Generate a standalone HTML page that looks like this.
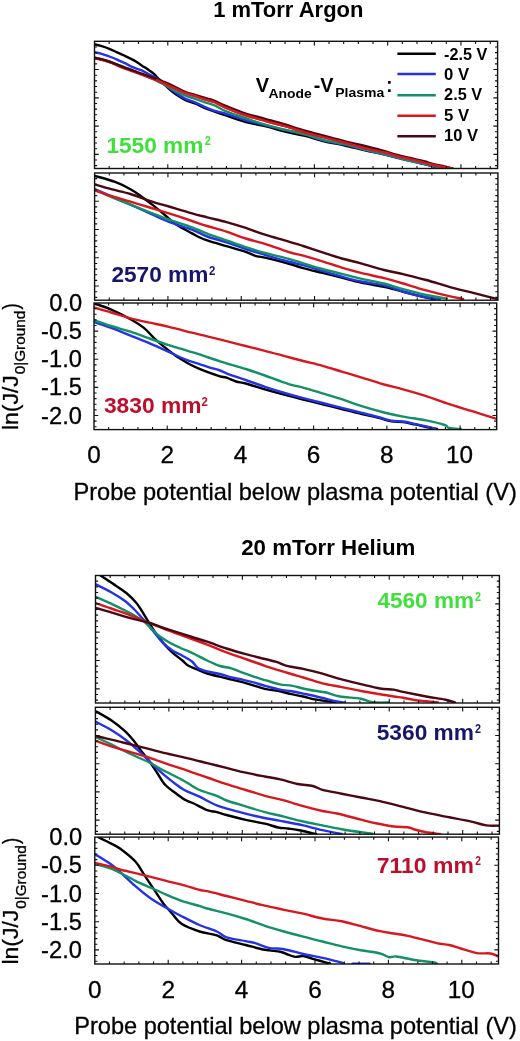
<!DOCTYPE html>
<html><head><meta charset="utf-8"><title>Probe potential plots</title>
<style>html,body{margin:0;padding:0;background:#fff;}svg{display:block;filter:blur(0.3px);}</style>
</head><body>
<svg width="520" height="1041" viewBox="0 0 520 1041">
<rect width="520" height="1041" fill="#fff"/>
<defs>
<clipPath id="cA1"><rect x="94.5" y="41.3" width="403.1" height="127.2"/></clipPath>
<clipPath id="cA2"><rect x="94.6" y="173.0" width="403.29999999999995" height="127.19999999999999"/></clipPath>
<clipPath id="cA3"><rect x="94.0" y="303.0" width="402.7" height="126.60000000000002"/></clipPath>
<clipPath id="cH1"><rect x="95.5" y="575.5" width="403.9" height="127.5"/></clipPath>
<clipPath id="cH2"><rect x="95.4" y="707.3" width="404.0" height="126.90000000000009"/></clipPath>
<clipPath id="cH3"><rect x="94.8" y="837.1" width="403.7" height="126.89999999999998"/></clipPath>
</defs>
<g clip-path="url(#cA1)" fill="none" stroke-width="2.4" stroke-linejoin="round" stroke-linecap="round">
<path stroke="#000000" d="M94.0 44.2C95.3 44.5 99.1 45.4 101.7 46.2C104.3 47.0 106.8 47.8 109.4 48.8C112.0 49.8 114.5 51.1 117.1 52.3C119.7 53.5 122.0 54.4 124.8 55.8C127.6 57.1 131.2 58.8 134.0 60.4C136.8 62.0 139.1 63.7 141.7 65.4C144.3 67.1 147.3 69.0 149.4 70.4C151.5 71.8 152.7 72.7 154.0 73.8C155.3 74.9 156.2 76.3 157.1 77.3C158.0 78.3 158.1 78.3 159.4 79.6C160.7 80.9 162.8 83.1 164.8 85.0C166.8 86.9 169.5 89.5 171.5 91.2C173.5 92.9 174.8 93.6 177.0 95.0C179.2 96.4 182.0 98.4 185.0 99.8C188.0 101.2 191.7 102.1 195.0 103.5C198.3 104.9 201.8 106.8 205.0 108.1C208.2 109.4 210.7 110.2 214.0 111.4C217.3 112.6 219.8 113.5 225.0 115.2C230.2 117.0 238.3 120.1 245.0 121.9C251.7 123.7 258.3 124.4 265.0 126.0C271.7 127.6 278.3 130.0 285.0 131.6C291.7 133.2 298.3 134.2 305.0 135.8C311.7 137.5 318.3 139.9 325.0 141.5C331.7 143.1 338.3 144.0 345.0 145.5C351.7 147.0 358.3 148.8 365.0 150.3C371.7 151.8 378.3 153.0 385.0 154.5C391.7 156.0 398.3 157.7 405.0 159.3C411.7 160.9 418.8 162.6 425.0 164.2C431.2 165.8 439.2 167.9 442.0 168.6"/>
<path stroke="#2433e6" d="M94.0 52.3C95.3 52.5 99.1 53.1 101.7 53.8C104.3 54.5 106.8 55.5 109.4 56.5C112.0 57.5 114.5 58.5 117.1 59.6C119.7 60.7 122.0 61.8 124.8 63.1C127.6 64.5 131.2 66.5 134.0 67.7C136.8 68.9 139.1 69.3 141.7 70.4C144.3 71.5 146.8 73.2 149.4 74.5C152.0 75.8 154.4 76.9 157.0 78.5C159.6 80.1 162.0 81.8 164.8 84.0C167.6 86.2 170.6 89.1 174.0 91.5C177.4 93.9 181.5 96.8 185.0 98.6C188.5 100.4 191.7 101.0 195.0 102.4C198.3 103.8 201.8 105.6 205.0 107.0C208.2 108.4 210.7 109.5 214.0 110.6C217.3 111.7 219.8 111.9 225.0 113.5C230.2 115.1 238.3 118.1 245.0 120.0C251.7 121.9 258.3 123.3 265.0 125.0C271.7 126.7 278.3 128.5 285.0 130.1C291.7 131.7 298.3 132.9 305.0 134.7C311.7 136.5 318.3 139.2 325.0 140.8C331.7 142.5 338.3 143.1 345.0 144.6C351.7 146.1 358.3 148.2 365.0 149.9C371.7 151.6 378.3 153.0 385.0 154.7C391.7 156.4 398.3 158.3 405.0 159.9C411.7 161.5 418.5 163.0 425.0 164.4C431.5 165.8 440.8 167.9 444.0 168.6"/>
<path stroke="#139065" d="M94.0 57.5C97.8 58.6 110.3 62.0 117.0 64.3C123.7 66.5 128.6 68.8 134.0 71.0C139.4 73.2 144.3 75.2 149.4 77.5C154.5 79.8 160.7 82.9 164.8 85.0C168.9 87.1 170.6 88.6 174.0 90.3C177.4 92.0 181.5 94.0 185.0 95.4C188.5 96.8 191.7 97.7 195.0 98.8C198.3 99.9 201.8 101.2 205.0 102.3C208.2 103.4 210.7 103.8 214.0 105.2C217.3 106.6 219.8 108.7 225.0 110.8C230.2 112.9 238.3 115.7 245.0 118.0C251.7 120.3 258.3 122.8 265.0 124.7C271.7 126.7 278.3 128.1 285.0 129.7C291.7 131.3 298.3 132.5 305.0 134.3C311.7 136.1 318.3 138.8 325.0 140.4C331.7 142.1 338.3 142.7 345.0 144.2C351.7 145.7 358.3 147.8 365.0 149.5C371.7 151.2 378.3 152.6 385.0 154.3C391.7 156.0 398.3 157.9 405.0 159.5C411.7 161.1 418.2 162.5 425.0 164.0C431.8 165.5 442.5 167.8 446.0 168.6"/>
<path stroke="#d81820" d="M94.0 58.2C95.3 58.5 99.1 59.1 101.7 59.8C104.3 60.5 106.8 61.3 109.4 62.2C112.0 63.1 114.5 64.3 117.1 65.4C119.7 66.5 122.0 67.5 124.8 68.6C127.6 69.7 131.2 70.8 134.0 71.8C136.8 72.8 139.1 73.8 141.7 74.7C144.3 75.7 146.8 76.6 149.4 77.5C152.0 78.4 154.5 79.2 157.1 80.2C159.7 81.2 162.0 82.3 164.8 83.6C167.6 84.9 170.6 86.4 174.0 87.9C177.4 89.5 181.5 91.6 185.0 92.9C188.5 94.2 191.7 94.9 195.0 96.0C198.3 97.1 201.8 98.3 205.0 99.3C208.2 100.3 210.7 100.7 214.0 102.0C217.3 103.3 219.8 105.1 225.0 107.3C230.2 109.5 238.3 112.8 245.0 115.0C251.7 117.2 258.3 118.9 265.0 120.8C271.7 122.7 278.3 124.3 285.0 126.2C291.7 128.1 298.3 130.4 305.0 132.3C311.7 134.2 318.3 136.0 325.0 137.7C331.7 139.4 338.3 141.0 345.0 142.7C351.7 144.4 358.3 146.5 365.0 148.1C371.7 149.7 380.0 151.3 385.0 152.5C390.0 153.7 391.7 154.6 395.0 155.5C398.3 156.4 401.7 157.2 405.0 158.0C408.3 158.8 411.7 159.4 415.0 160.2C418.3 161.0 421.9 162.0 425.0 162.8C428.1 163.6 430.4 164.3 433.6 165.0C436.8 165.7 441.2 166.4 444.4 167.0C447.5 167.6 451.1 168.3 452.5 168.6"/>
<path stroke="#4a0812" d="M94.0 57.7C95.3 58.0 99.1 58.6 101.7 59.2C104.3 59.8 106.8 60.6 109.4 61.5C112.0 62.4 114.5 63.6 117.1 64.6C119.7 65.6 122.0 66.7 124.8 67.7C127.6 68.7 131.2 69.8 134.0 70.8C136.8 71.8 139.1 72.7 141.7 73.6C144.3 74.5 146.8 75.4 149.4 76.3C152.0 77.2 154.5 77.9 157.1 78.9C159.7 79.9 162.0 81.0 164.8 82.2C167.6 83.4 170.6 84.7 174.0 86.3C177.4 87.9 181.5 90.4 185.0 91.8C188.5 93.2 191.7 93.8 195.0 94.8C198.3 95.8 201.8 97.0 205.0 97.9C208.2 98.9 210.7 99.2 214.0 100.5C217.3 101.8 219.8 103.4 225.0 105.5C230.2 107.6 238.3 111.1 245.0 113.3C251.7 115.5 258.3 116.9 265.0 118.8C271.7 120.7 278.3 122.5 285.0 124.5C291.7 126.5 298.3 128.7 305.0 130.6C311.7 132.5 318.3 134.2 325.0 136.0C331.7 137.8 338.3 139.6 345.0 141.3C351.7 143.0 358.3 144.3 365.0 146.0C371.7 147.7 380.0 149.8 385.0 151.2C390.0 152.6 391.7 153.6 395.0 154.5C398.3 155.4 401.7 156.0 405.0 156.8C408.3 157.6 411.7 158.4 415.0 159.2C418.3 160.0 421.9 160.7 425.0 161.5C428.1 162.3 430.4 163.4 433.6 164.2C436.8 165.0 441.2 165.7 444.4 166.4C447.5 167.1 451.1 168.0 452.5 168.3"/>
<path stroke="#d81820" d="M157.1 80.2C158.4 80.8 162.0 82.3 164.8 83.6C167.6 84.9 170.6 86.4 174.0 87.9C177.4 89.5 181.5 91.6 185.0 92.9C188.5 94.2 191.7 94.9 195.0 96.0C198.3 97.1 201.8 98.3 205.0 99.3C208.2 100.3 210.7 100.7 214.0 102.0C217.3 103.3 219.8 105.1 225.0 107.3C230.2 109.5 238.3 112.8 245.0 115.0C251.7 117.2 258.3 118.9 265.0 120.8C271.7 122.7 278.3 124.3 285.0 126.2C291.7 128.1 298.3 130.4 305.0 132.3C311.7 134.2 318.3 136.0 325.0 137.7C331.7 139.4 338.3 141.0 345.0 142.7C351.7 144.4 358.3 146.5 365.0 148.1C371.7 149.7 380.0 151.3 385.0 152.5C390.0 153.7 391.7 154.6 395.0 155.5C398.3 156.4 401.7 157.2 405.0 158.0C408.3 158.8 411.7 159.4 415.0 160.2C418.3 161.0 421.9 162.0 425.0 162.8C428.1 163.6 430.4 164.3 433.6 165.0C436.8 165.7 441.2 166.4 444.4 167.0C447.5 167.6 451.1 168.3 452.5 168.6"/>
</g>
<rect x="94.5" y="41.3" width="403.10" height="127.20" fill="none" stroke="#111" stroke-width="1.4"/>
<path d="M109.16 168.50v-2.6M109.16 41.30v2.6M123.82 168.50v-2.6M123.82 41.30v2.6M138.47 168.50v-2.6M138.47 41.30v2.6M153.13 168.50v-2.6M153.13 41.30v2.6M167.79 168.50v-4.2M167.79 41.30v4.2M182.45 168.50v-2.6M182.45 41.30v2.6M197.11 168.50v-2.6M197.11 41.30v2.6M211.77 168.50v-2.6M211.77 41.30v2.6M226.42 168.50v-2.6M226.42 41.30v2.6M241.08 168.50v-4.2M241.08 41.30v4.2M255.74 168.50v-2.6M255.74 41.30v2.6M270.40 168.50v-2.6M270.40 41.30v2.6M285.06 168.50v-2.6M285.06 41.30v2.6M299.71 168.50v-2.6M299.71 41.30v2.6M314.37 168.50v-4.2M314.37 41.30v4.2M329.03 168.50v-2.6M329.03 41.30v2.6M343.69 168.50v-2.6M343.69 41.30v2.6M358.35 168.50v-2.6M358.35 41.30v2.6M373.01 168.50v-2.6M373.01 41.30v2.6M387.66 168.50v-4.2M387.66 41.30v4.2M402.32 168.50v-2.6M402.32 41.30v2.6M416.98 168.50v-2.6M416.98 41.30v2.6M431.64 168.50v-2.6M431.64 41.30v2.6M446.30 168.50v-2.6M446.30 41.30v2.6M460.95 168.50v-4.2M460.95 41.30v4.2M475.61 168.50v-2.6M475.61 41.30v2.6M490.27 168.50v-2.6M490.27 41.30v2.6M94.50 46.95h2.6M497.60 46.95h-2.6M94.50 52.61h2.6M497.60 52.61h-2.6M94.50 58.26h2.6M497.60 58.26h-2.6M94.50 63.91h2.6M497.60 63.91h-2.6M94.50 69.57h4.2M497.60 69.57h-4.2M94.50 75.22h2.6M497.60 75.22h-2.6M94.50 80.87h2.6M497.60 80.87h-2.6M94.50 86.53h2.6M497.60 86.53h-2.6M94.50 92.18h2.6M497.60 92.18h-2.6M94.50 97.83h4.2M497.60 97.83h-4.2M94.50 103.49h2.6M497.60 103.49h-2.6M94.50 109.14h2.6M497.60 109.14h-2.6M94.50 114.79h2.6M497.60 114.79h-2.6M94.50 120.45h2.6M497.60 120.45h-2.6M94.50 126.10h4.2M497.60 126.10h-4.2M94.50 131.75h2.6M497.60 131.75h-2.6M94.50 137.41h2.6M497.60 137.41h-2.6M94.50 143.06h2.6M497.60 143.06h-2.6M94.50 148.71h2.6M497.60 148.71h-2.6M94.50 154.37h4.2M497.60 154.37h-4.2M94.50 160.02h2.6M497.60 160.02h-2.6M94.50 165.67h2.6M497.60 165.67h-2.6" stroke="#111" stroke-width="1.1" fill="none"/>
<g clip-path="url(#cA2)" fill="none" stroke-width="2.4" stroke-linejoin="round" stroke-linecap="round">
<path stroke="#000000" d="M94.3 175.8C97.8 176.8 109.1 179.7 115.1 181.9C121.1 184.1 126.0 186.7 130.5 189.2C135.0 191.7 138.2 194.2 142.0 196.9C145.8 199.6 149.7 202.6 153.5 205.6C157.3 208.6 161.2 212.0 165.1 215.2C168.9 218.4 172.1 221.8 176.6 224.8C181.1 227.8 188.5 231.5 192.0 233.4C195.5 235.3 195.1 235.3 197.6 236.5C200.1 237.7 202.4 238.8 207.2 240.4C212.0 242.0 220.1 244.3 226.5 246.2C232.9 248.1 240.9 250.3 245.7 251.9C250.5 253.5 252.1 254.8 255.3 255.8C258.5 256.8 259.4 256.4 264.9 257.7C270.3 259.0 281.6 261.8 288.0 263.5C294.4 265.2 297.4 266.5 303.2 268.1C308.9 269.7 316.1 271.3 322.5 272.9C328.9 274.5 335.3 276.1 341.7 277.7C348.1 279.3 353.8 281.0 360.9 282.5C367.9 284.0 378.5 285.7 384.0 286.8C389.5 287.9 390.6 288.4 393.8 289.2C397.0 290.0 397.7 290.4 403.1 291.8C408.5 293.2 420.8 296.3 426.2 297.5C431.6 298.7 433.9 298.7 435.4 298.9"/>
<path stroke="#2433e6" d="M94.3 188.8C100.3 191.4 121.3 200.5 130.5 204.6C139.7 208.7 143.3 210.4 149.7 213.3C156.1 216.2 161.8 219.2 168.9 221.9C176.0 224.6 185.6 227.2 192.0 229.6C198.4 232.0 201.4 234.4 207.2 236.5C212.9 238.6 220.1 240.2 226.5 242.3C232.9 244.4 239.3 246.9 245.7 249.0C252.1 251.1 257.8 252.7 264.9 254.8C271.9 256.9 281.6 259.8 288.0 261.5C294.4 263.2 297.4 263.6 303.2 265.2C308.9 266.8 316.1 269.1 322.5 271.0C328.9 272.9 335.3 274.9 341.7 276.7C348.1 278.4 353.8 280.1 360.9 281.5C367.9 282.9 377.0 283.7 384.0 285.4C391.0 287.1 396.1 289.5 403.1 291.5C410.1 293.5 420.1 296.1 426.2 297.3C432.3 298.5 437.7 298.6 440.0 298.9"/>
<path stroke="#139065" d="M94.3 189.2C97.1 190.5 105.2 194.3 111.2 196.9C117.2 199.5 124.1 202.0 130.5 204.6C136.9 207.2 143.3 209.8 149.7 212.3C156.1 214.8 161.8 217.1 168.9 219.6C176.0 222.1 185.6 225.0 192.0 227.3C198.4 229.7 201.4 231.5 207.2 233.7C212.9 235.9 220.1 238.2 226.5 240.4C232.9 242.6 239.3 245.0 245.7 247.1C252.1 249.2 257.8 251.0 264.9 252.9C271.9 254.8 281.6 257.0 288.0 258.7C294.4 260.4 297.4 261.6 303.2 263.3C308.9 265.0 316.1 267.2 322.5 269.0C328.9 270.8 335.3 272.2 341.7 273.8C348.1 275.4 353.8 277.1 360.9 278.7C367.9 280.3 377.0 281.8 384.0 283.5C391.0 285.2 396.1 287.3 403.1 289.2C410.1 291.1 418.9 293.4 426.2 295.0C433.5 296.6 443.4 297.9 446.9 298.5"/>
<path stroke="#d81820" d="M94.3 190.2C97.1 191.2 105.2 194.1 111.2 196.0C117.2 197.9 124.1 199.8 130.5 201.7C136.9 203.6 143.3 205.6 149.7 207.5C156.1 209.4 161.8 211.1 168.9 213.3C176.0 215.6 185.6 218.9 192.0 221.0C198.4 223.1 201.4 224.2 207.2 226.0C212.9 227.8 220.1 229.6 226.5 231.7C232.9 233.8 239.3 236.5 245.7 238.5C252.1 240.5 257.8 241.6 264.9 243.8C271.9 246.0 281.6 249.9 288.0 251.9C294.4 253.9 297.4 254.0 303.2 255.6C308.9 257.2 316.1 259.3 322.5 261.3C328.9 263.3 335.3 265.8 341.7 267.7C348.1 269.6 353.8 271.2 360.9 272.9C367.9 274.6 377.0 276.3 384.0 278.1C391.0 279.9 396.1 281.4 403.1 283.5C410.1 285.6 418.5 288.3 426.2 290.4C433.9 292.5 443.0 294.8 449.2 296.2C455.4 297.6 460.8 298.4 463.1 298.9"/>
<path stroke="#4a0812" d="M94.3 184.4C97.1 185.2 105.2 187.6 111.2 189.2C117.2 190.8 124.1 192.1 130.5 194.0C136.9 195.9 143.3 198.7 149.7 200.8C156.1 202.9 161.8 204.4 168.9 206.5C176.0 208.6 185.6 211.5 192.0 213.3C198.4 215.1 201.4 215.8 207.2 217.3C212.9 218.8 220.1 220.3 226.5 222.1C232.9 223.9 239.3 225.8 245.7 227.9C252.1 230.0 257.8 232.4 264.9 234.6C271.9 236.8 281.6 239.4 288.0 241.3C294.4 243.2 297.4 244.2 303.2 246.0C308.9 247.8 316.1 250.2 322.5 252.3C328.9 254.4 335.3 256.7 341.7 258.5C348.1 260.3 353.8 261.4 360.9 263.3C367.9 265.2 377.0 268.2 384.0 270.0C391.0 271.8 396.1 272.5 403.1 274.2C410.1 275.9 418.5 277.9 426.2 280.0C433.9 282.1 441.5 284.8 449.2 286.9C456.9 289.0 464.1 290.6 472.3 292.7C480.5 294.8 494.1 298.2 498.5 299.3"/>
</g>
<rect x="94.6" y="173.0" width="403.30" height="127.20" fill="none" stroke="#111" stroke-width="1.4"/>
<path d="M109.27 300.20v-2.6M109.27 173.00v2.6M123.93 300.20v-2.6M123.93 173.00v2.6M138.60 300.20v-2.6M138.60 173.00v2.6M153.26 300.20v-2.6M153.26 173.00v2.6M167.93 300.20v-4.2M167.93 173.00v4.2M182.59 300.20v-2.6M182.59 173.00v2.6M197.26 300.20v-2.6M197.26 173.00v2.6M211.92 300.20v-2.6M211.92 173.00v2.6M226.59 300.20v-2.6M226.59 173.00v2.6M241.25 300.20v-4.2M241.25 173.00v4.2M255.92 300.20v-2.6M255.92 173.00v2.6M270.59 300.20v-2.6M270.59 173.00v2.6M285.25 300.20v-2.6M285.25 173.00v2.6M299.92 300.20v-2.6M299.92 173.00v2.6M314.58 300.20v-4.2M314.58 173.00v4.2M329.25 300.20v-2.6M329.25 173.00v2.6M343.91 300.20v-2.6M343.91 173.00v2.6M358.58 300.20v-2.6M358.58 173.00v2.6M373.24 300.20v-2.6M373.24 173.00v2.6M387.91 300.20v-4.2M387.91 173.00v4.2M402.57 300.20v-2.6M402.57 173.00v2.6M417.24 300.20v-2.6M417.24 173.00v2.6M431.91 300.20v-2.6M431.91 173.00v2.6M446.57 300.20v-2.6M446.57 173.00v2.6M461.24 300.20v-4.2M461.24 173.00v4.2M475.90 300.20v-2.6M475.90 173.00v2.6M490.57 300.20v-2.6M490.57 173.00v2.6M94.60 178.65h2.6M497.90 178.65h-2.6M94.60 184.31h2.6M497.90 184.31h-2.6M94.60 189.96h2.6M497.90 189.96h-2.6M94.60 195.61h2.6M497.90 195.61h-2.6M94.60 201.27h4.2M497.90 201.27h-4.2M94.60 206.92h2.6M497.90 206.92h-2.6M94.60 212.57h2.6M497.90 212.57h-2.6M94.60 218.23h2.6M497.90 218.23h-2.6M94.60 223.88h2.6M497.90 223.88h-2.6M94.60 229.53h4.2M497.90 229.53h-4.2M94.60 235.19h2.6M497.90 235.19h-2.6M94.60 240.84h2.6M497.90 240.84h-2.6M94.60 246.49h2.6M497.90 246.49h-2.6M94.60 252.15h2.6M497.90 252.15h-2.6M94.60 257.80h4.2M497.90 257.80h-4.2M94.60 263.45h2.6M497.90 263.45h-2.6M94.60 269.11h2.6M497.90 269.11h-2.6M94.60 274.76h2.6M497.90 274.76h-2.6M94.60 280.41h2.6M497.90 280.41h-2.6M94.60 286.07h4.2M497.90 286.07h-4.2M94.60 291.72h2.6M497.90 291.72h-2.6M94.60 297.37h2.6M497.90 297.37h-2.6" stroke="#111" stroke-width="1.1" fill="none"/>
<g clip-path="url(#cA3)" fill="none" stroke-width="2.4" stroke-linejoin="round" stroke-linecap="round">
<path stroke="#000000" d="M94.3 303.5C97.1 304.5 105.2 307.0 111.2 309.6C117.2 312.2 125.0 316.1 130.5 319.2C135.9 322.2 140.1 324.8 143.9 327.9C147.7 330.9 150.3 334.4 153.5 337.5C156.7 340.6 159.7 343.3 163.2 346.2C166.7 349.1 171.9 352.9 174.7 355.0C177.5 357.1 177.6 357.0 180.0 358.5C182.4 360.0 186.1 362.3 189.2 364.0C192.3 365.7 195.6 367.2 198.8 368.6C202.0 370.0 205.0 371.1 208.5 372.4C212.0 373.7 217.0 375.4 220.0 376.3C223.0 377.2 223.8 376.8 226.5 377.7C229.2 378.6 232.9 380.5 236.1 381.5C239.3 382.5 240.9 382.2 245.7 383.5C250.5 384.8 258.5 387.4 264.9 389.3C271.3 391.2 277.8 393.0 284.2 394.7C290.6 396.4 296.8 397.9 303.2 399.5C309.6 401.1 316.1 402.7 322.5 404.3C328.9 405.9 335.3 407.4 341.7 409.0C348.1 410.6 354.5 412.3 360.9 413.8C367.3 415.3 374.9 416.9 380.0 418.2C385.1 419.5 387.6 420.8 391.5 421.4C395.4 422.0 399.2 421.6 403.1 422.1C407.0 422.6 410.8 423.6 414.6 424.4C418.5 425.2 422.5 426.2 426.2 427.0C429.9 427.8 435.2 428.7 437.0 429.0"/>
<path stroke="#2433e6" d="M94.3 322.1C97.1 323.1 105.2 325.6 111.2 327.9C117.2 330.1 124.1 333.0 130.5 335.6C136.9 338.2 143.3 340.6 149.7 343.3C156.1 346.0 163.9 349.6 168.9 351.9C173.9 354.2 176.2 355.5 179.6 357.0C183.0 358.5 186.0 359.8 189.2 360.9C192.4 362.0 195.6 362.8 198.8 363.8C202.0 364.8 205.0 366.0 208.5 367.1C212.0 368.2 217.0 369.5 220.0 370.5C223.0 371.5 222.2 371.7 226.5 373.3C230.8 374.9 239.3 377.8 245.7 380.0C252.1 382.2 257.8 384.5 264.9 386.8C271.9 389.1 281.6 392.1 288.0 394.0C294.4 395.9 297.4 396.7 303.2 398.2C308.9 399.7 316.1 401.4 322.5 403.0C328.9 404.6 335.3 406.2 341.7 407.8C348.1 409.4 354.5 411.1 360.9 412.7C367.3 414.3 374.9 416.1 380.0 417.5C385.1 418.9 387.6 420.1 391.5 420.8C395.4 421.5 399.2 421.0 403.1 421.5C407.0 422.0 410.8 423.0 414.6 423.8C418.5 424.6 422.7 425.6 426.2 426.4C429.7 427.2 433.9 428.4 435.4 428.8"/>
<path stroke="#139065" d="M94.3 320.2C97.1 321.2 105.2 324.1 111.2 326.0C117.2 327.9 124.1 329.6 130.5 331.7C136.9 333.8 143.3 336.2 149.7 338.5C156.1 340.8 163.9 343.6 168.9 345.2C173.9 346.8 176.2 347.4 179.6 348.4C183.0 349.4 186.0 350.4 189.2 351.3C192.4 352.2 195.6 353.1 198.8 354.1C202.0 355.1 205.0 356.3 208.5 357.5C212.0 358.7 217.0 360.3 220.0 361.3C223.0 362.3 222.2 362.0 226.5 363.3C230.8 364.6 239.3 367.0 245.7 369.0C252.1 371.0 257.8 373.0 264.9 375.5C271.9 378.0 281.6 381.8 288.0 383.8C294.4 385.8 297.4 386.1 303.2 387.7C308.9 389.3 316.1 391.5 322.5 393.4C328.9 395.3 335.3 397.1 341.7 399.2C348.1 401.3 353.8 403.7 360.9 405.9C367.9 408.1 377.0 410.7 384.0 412.5C391.0 414.3 396.1 415.3 403.1 416.6C410.1 417.9 419.3 419.0 426.2 420.4C433.1 421.8 440.8 423.7 444.6 425.0C448.4 426.3 446.5 427.3 449.2 428.0C451.9 428.7 458.9 428.8 460.8 429.0"/>
<path stroke="#d81820" d="M94.3 307.7C97.1 308.5 105.2 310.7 111.2 312.5C117.2 314.3 124.1 316.6 130.5 318.3C136.9 320.0 143.3 321.3 149.7 322.7C156.1 324.1 161.8 325.2 168.9 326.9C176.0 328.6 185.6 331.1 192.0 332.7C198.4 334.3 201.4 334.9 207.2 336.3C212.9 337.7 220.1 339.6 226.5 341.2C232.9 342.8 239.3 344.4 245.7 346.0C252.1 347.6 257.8 349.0 264.9 350.8C271.9 352.6 281.6 355.3 288.0 357.0C294.4 358.7 297.4 359.5 303.2 361.0C308.9 362.5 316.1 364.0 322.5 365.8C328.9 367.6 335.3 369.7 341.7 371.6C348.1 373.5 353.8 375.2 360.9 377.3C367.9 379.4 377.0 382.5 384.0 384.5C391.0 386.5 396.1 387.4 403.1 389.4C410.1 391.3 418.5 393.7 426.2 396.2C433.9 398.7 441.5 401.7 449.2 404.2C456.9 406.7 464.2 408.7 472.3 411.2C480.4 413.7 493.3 417.9 497.5 419.2"/>
</g>
<rect x="94.0" y="303.0" width="402.70" height="126.60" fill="none" stroke="#111" stroke-width="1.4"/>
<path d="M108.64 429.60v-2.6M108.64 303.00v2.6M123.29 429.60v-2.6M123.29 303.00v2.6M137.93 429.60v-2.6M137.93 303.00v2.6M152.57 429.60v-2.6M152.57 303.00v2.6M167.22 429.60v-4.2M167.22 303.00v4.2M181.86 429.60v-2.6M181.86 303.00v2.6M196.51 429.60v-2.6M196.51 303.00v2.6M211.15 429.60v-2.6M211.15 303.00v2.6M225.79 429.60v-2.6M225.79 303.00v2.6M240.44 429.60v-4.2M240.44 303.00v4.2M255.08 429.60v-2.6M255.08 303.00v2.6M269.72 429.60v-2.6M269.72 303.00v2.6M284.37 429.60v-2.6M284.37 303.00v2.6M299.01 429.60v-2.6M299.01 303.00v2.6M313.65 429.60v-4.2M313.65 303.00v4.2M328.30 429.60v-2.6M328.30 303.00v2.6M342.94 429.60v-2.6M342.94 303.00v2.6M357.59 429.60v-2.6M357.59 303.00v2.6M372.23 429.60v-2.6M372.23 303.00v2.6M386.87 429.60v-4.2M386.87 303.00v4.2M401.52 429.60v-2.6M401.52 303.00v2.6M416.16 429.60v-2.6M416.16 303.00v2.6M430.80 429.60v-2.6M430.80 303.00v2.6M445.45 429.60v-2.6M445.45 303.00v2.6M460.09 429.60v-4.2M460.09 303.00v4.2M474.73 429.60v-2.6M474.73 303.00v2.6M489.38 429.60v-2.6M489.38 303.00v2.6M94.00 308.63h2.6M496.70 308.63h-2.6M94.00 314.25h2.6M496.70 314.25h-2.6M94.00 319.88h2.6M496.70 319.88h-2.6M94.00 325.51h2.6M496.70 325.51h-2.6M94.00 331.13h4.2M496.70 331.13h-4.2M94.00 336.76h2.6M496.70 336.76h-2.6M94.00 342.39h2.6M496.70 342.39h-2.6M94.00 348.01h2.6M496.70 348.01h-2.6M94.00 353.64h2.6M496.70 353.64h-2.6M94.00 359.27h4.2M496.70 359.27h-4.2M94.00 364.89h2.6M496.70 364.89h-2.6M94.00 370.52h2.6M496.70 370.52h-2.6M94.00 376.15h2.6M496.70 376.15h-2.6M94.00 381.77h2.6M496.70 381.77h-2.6M94.00 387.40h4.2M496.70 387.40h-4.2M94.00 393.03h2.6M496.70 393.03h-2.6M94.00 398.65h2.6M496.70 398.65h-2.6M94.00 404.28h2.6M496.70 404.28h-2.6M94.00 409.91h2.6M496.70 409.91h-2.6M94.00 415.53h4.2M496.70 415.53h-4.2M94.00 421.16h2.6M496.70 421.16h-2.6M94.00 426.79h2.6M496.70 426.79h-2.6" stroke="#111" stroke-width="1.1" fill="none"/>
<g clip-path="url(#cH1)" fill="none" stroke-width="2.4" stroke-linejoin="round" stroke-linecap="round">
<path stroke="#000000" d="M97.5 573.5C99.8 575.0 106.4 579.3 111.2 582.6C116.0 585.9 122.4 589.8 126.6 593.2C130.8 596.6 133.3 599.3 136.2 602.8C139.1 606.3 141.7 610.8 143.9 614.3C146.2 617.8 147.4 620.4 149.7 623.9C151.9 627.4 154.8 632.0 157.4 635.5C160.0 639.0 162.5 642.2 165.1 645.1C167.7 648.0 169.9 650.2 172.8 652.8C175.7 655.4 179.9 658.4 182.4 660.5C184.9 662.6 185.5 664.0 188.0 665.5C190.5 667.0 194.4 668.3 197.6 669.6C200.8 670.9 202.4 672.0 207.2 673.5C212.0 675.0 220.1 676.7 226.5 678.3C232.9 679.9 239.3 681.4 245.7 683.1C252.1 684.9 259.2 687.4 264.9 688.8C270.6 690.2 275.6 690.4 280.0 691.3C284.4 692.2 287.6 693.3 291.5 694.2C295.4 695.1 299.2 695.6 303.1 696.5C307.0 697.4 310.8 698.6 314.6 699.4C318.4 700.2 322.6 700.6 326.1 701.1C329.6 701.6 333.8 702.4 335.4 702.6"/>
<path stroke="#2433e6" d="M94.9 583.9C97.6 585.3 106.2 589.4 111.2 592.2C116.2 595.0 120.8 597.9 124.7 600.8C128.6 603.7 131.1 606.3 134.3 609.5C137.5 612.7 140.7 616.4 143.9 620.1C147.1 623.8 150.3 627.8 153.5 631.6C156.7 635.5 160.0 640.0 163.2 643.2C166.4 646.4 169.6 648.7 172.8 650.8C176.0 652.9 179.2 653.9 182.4 655.7C185.6 657.5 189.5 659.5 192.0 661.5C194.5 663.5 195.1 666.0 197.6 667.7C200.1 669.4 203.5 670.5 207.2 671.5C210.9 672.5 215.9 673.0 220.0 674.0C224.1 675.0 227.7 676.5 231.5 677.5C235.3 678.5 239.2 678.9 243.1 679.8C246.9 680.7 250.8 681.7 254.6 682.7C258.4 683.8 261.9 685.0 266.1 686.1C270.3 687.2 275.8 688.7 280.0 689.6C284.2 690.5 287.6 690.6 291.5 691.3C295.4 692.0 299.2 692.8 303.1 693.6C307.0 694.4 310.8 695.1 314.6 696.0C318.4 696.9 323.0 698.0 326.1 698.8C329.2 699.6 329.9 700.0 333.0 700.6C336.1 701.2 343.0 702.3 345.0 702.6"/>
<path stroke="#139065" d="M94.9 596.6C97.6 597.8 105.3 600.9 111.2 603.7C117.1 606.5 124.7 610.1 130.5 613.3C136.3 616.5 141.3 619.5 145.8 623.0C150.3 626.5 153.6 631.3 157.4 634.5C161.2 637.7 165.1 640.0 168.9 642.2C172.8 644.5 176.7 646.2 180.5 648.0C184.3 649.8 187.6 650.7 192.0 652.8C196.4 654.9 202.5 658.3 207.2 660.5C211.9 662.7 215.9 664.7 220.0 666.0C224.1 667.3 227.7 667.1 231.5 668.3C235.3 669.4 239.2 671.5 243.1 672.9C246.9 674.3 250.8 675.6 254.6 676.9C258.4 678.1 261.9 679.1 266.1 680.4C270.3 681.6 275.8 683.5 280.0 684.4C284.2 685.3 287.6 684.9 291.5 685.6C295.4 686.3 299.2 687.6 303.1 688.5C307.0 689.4 310.8 690.1 314.6 690.8C318.4 691.5 321.9 691.5 326.1 692.5C330.3 693.5 334.2 695.5 340.0 696.5C345.8 697.5 355.5 697.7 360.9 698.7C366.3 699.7 367.8 701.7 372.5 702.3C377.2 702.9 386.2 702.5 389.0 702.5"/>
<path stroke="#d81820" d="M94.9 602.8C97.6 603.8 105.3 606.4 111.2 608.5C117.1 610.6 124.1 612.9 130.5 615.3C136.9 617.7 143.3 620.4 149.7 623.0C156.1 625.6 161.8 628.0 168.9 630.7C176.0 633.4 185.6 636.7 192.0 639.0C198.4 641.3 201.4 642.4 207.2 644.6C212.9 646.8 220.1 649.9 226.5 652.3C232.9 654.7 239.3 656.8 245.7 659.0C252.1 661.2 257.8 663.5 264.9 665.8C271.9 668.1 281.6 671.0 288.0 673.0C294.4 675.0 297.4 675.8 303.2 677.5C308.9 679.2 316.1 681.7 322.5 683.3C328.9 684.9 335.3 685.8 341.7 687.1C348.1 688.4 354.5 689.8 360.9 691.0C367.3 692.2 374.5 693.3 380.0 694.2C385.5 695.1 389.9 695.9 393.8 696.5C397.7 697.1 399.6 697.1 403.1 697.7C406.6 698.3 410.8 699.4 414.6 700.0C418.5 700.6 422.3 700.8 426.2 701.2C430.1 701.6 436.0 702.3 438.0 702.5"/>
<path stroke="#4a0812" d="M94.9 607.6C97.6 608.4 105.3 610.6 111.2 612.4C117.1 614.2 124.1 616.4 130.5 618.2C136.9 620.0 143.3 621.1 149.7 623.0C156.1 624.9 161.8 627.4 168.9 629.7C176.0 632.0 185.6 635.0 192.0 637.0C198.4 639.0 201.4 639.8 207.2 641.7C212.9 643.6 220.1 646.4 226.5 648.5C232.9 650.6 239.3 652.5 245.7 654.2C252.1 656.0 259.8 657.7 264.9 659.0C270.0 660.3 272.6 660.7 276.5 661.9C280.4 663.1 283.6 665.1 288.0 666.2C292.4 667.4 297.4 667.5 303.2 668.8C308.9 670.0 316.1 671.9 322.5 673.7C328.9 675.5 335.3 677.6 341.7 679.4C348.1 681.1 354.5 682.7 360.9 684.2C367.3 685.7 374.5 687.6 380.0 688.5C385.5 689.4 389.9 689.0 393.8 689.6C397.7 690.2 397.7 690.8 403.1 691.9C408.5 693.0 419.3 695.2 426.2 696.5C433.1 697.8 439.8 698.5 444.6 699.5C449.4 700.5 453.3 702.0 455.0 702.5"/>
</g>
<rect x="95.5" y="575.5" width="403.90" height="127.50" fill="none" stroke="#111" stroke-width="1.4"/>
<path d="M110.19 703.00v-2.6M110.19 575.50v2.6M124.87 703.00v-2.6M124.87 575.50v2.6M139.56 703.00v-2.6M139.56 575.50v2.6M154.25 703.00v-2.6M154.25 575.50v2.6M168.94 703.00v-4.2M168.94 575.50v4.2M183.62 703.00v-2.6M183.62 575.50v2.6M198.31 703.00v-2.6M198.31 575.50v2.6M213.00 703.00v-2.6M213.00 575.50v2.6M227.69 703.00v-2.6M227.69 575.50v2.6M242.37 703.00v-4.2M242.37 575.50v4.2M257.06 703.00v-2.6M257.06 575.50v2.6M271.75 703.00v-2.6M271.75 575.50v2.6M286.43 703.00v-2.6M286.43 575.50v2.6M301.12 703.00v-2.6M301.12 575.50v2.6M315.81 703.00v-4.2M315.81 575.50v4.2M330.50 703.00v-2.6M330.50 575.50v2.6M345.18 703.00v-2.6M345.18 575.50v2.6M359.87 703.00v-2.6M359.87 575.50v2.6M374.56 703.00v-2.6M374.56 575.50v2.6M389.25 703.00v-4.2M389.25 575.50v4.2M403.93 703.00v-2.6M403.93 575.50v2.6M418.62 703.00v-2.6M418.62 575.50v2.6M433.31 703.00v-2.6M433.31 575.50v2.6M447.99 703.00v-2.6M447.99 575.50v2.6M462.68 703.00v-4.2M462.68 575.50v4.2M477.37 703.00v-2.6M477.37 575.50v2.6M492.06 703.00v-2.6M492.06 575.50v2.6M95.50 581.17h2.6M499.40 581.17h-2.6M95.50 586.83h2.6M499.40 586.83h-2.6M95.50 592.50h2.6M499.40 592.50h-2.6M95.50 598.17h2.6M499.40 598.17h-2.6M95.50 603.83h4.2M499.40 603.83h-4.2M95.50 609.50h2.6M499.40 609.50h-2.6M95.50 615.17h2.6M499.40 615.17h-2.6M95.50 620.83h2.6M499.40 620.83h-2.6M95.50 626.50h2.6M499.40 626.50h-2.6M95.50 632.17h4.2M499.40 632.17h-4.2M95.50 637.83h2.6M499.40 637.83h-2.6M95.50 643.50h2.6M499.40 643.50h-2.6M95.50 649.17h2.6M499.40 649.17h-2.6M95.50 654.83h2.6M499.40 654.83h-2.6M95.50 660.50h4.2M499.40 660.50h-4.2M95.50 666.17h2.6M499.40 666.17h-2.6M95.50 671.83h2.6M499.40 671.83h-2.6M95.50 677.50h2.6M499.40 677.50h-2.6M95.50 683.17h2.6M499.40 683.17h-2.6M95.50 688.83h4.2M499.40 688.83h-4.2M95.50 694.50h2.6M499.40 694.50h-2.6M95.50 700.17h2.6M499.40 700.17h-2.6" stroke="#111" stroke-width="1.1" fill="none"/>
<g clip-path="url(#cH2)" fill="none" stroke-width="2.4" stroke-linejoin="round" stroke-linecap="round">
<path stroke="#000000" d="M94.9 710.7C97.6 712.3 106.2 716.9 111.2 720.3C116.2 723.7 120.8 727.4 124.7 730.9C128.6 734.4 131.4 738.0 134.3 741.5C137.2 745.0 139.4 748.7 142.0 752.1C144.6 755.5 147.1 758.2 149.7 761.7C152.3 765.2 154.8 769.4 157.4 773.2C160.0 777.1 162.2 781.6 165.1 784.8C168.0 788.0 171.8 790.3 174.7 792.5C177.6 794.7 180.2 796.7 182.4 798.2C184.7 799.7 186.3 800.4 188.2 801.3C190.1 802.2 190.6 802.0 193.8 803.5C197.0 805.0 203.4 808.8 207.2 810.2C211.0 811.6 213.6 811.3 216.8 812.1C220.0 812.9 221.7 813.7 226.5 815.0C231.3 816.3 239.3 818.3 245.7 819.8C252.1 821.2 259.4 822.4 264.9 823.7C270.3 825.0 274.5 826.7 278.4 827.5C282.2 828.3 284.5 828.0 288.0 828.5C291.5 829.0 295.3 829.4 299.4 830.2C303.5 831.0 310.0 832.7 312.8 833.3C315.6 833.9 315.5 833.9 316.0 834.0"/>
<path stroke="#2433e6" d="M94.9 721.3C97.6 722.8 105.9 726.8 111.2 730.0C116.5 733.2 121.8 736.8 126.6 740.5C131.4 744.2 136.2 748.6 140.1 752.1C143.9 755.6 146.2 758.3 149.7 761.7C153.2 765.1 157.3 768.9 161.2 772.3C165.0 775.7 169.0 778.9 172.8 781.9C176.7 784.9 179.9 787.5 184.3 790.0C188.8 792.5 194.1 794.1 199.5 796.7C204.9 799.3 210.7 803.0 216.8 805.4C222.9 807.8 229.7 809.4 236.1 811.2C242.5 813.0 248.9 814.6 255.3 816.0C261.7 817.4 269.7 818.9 274.5 819.8C279.3 820.7 279.2 820.6 284.0 821.5C288.8 822.4 296.8 823.9 303.2 825.4C309.6 826.9 316.1 828.8 322.5 830.2C328.9 831.6 338.5 833.4 341.7 834.0"/>
<path stroke="#139065" d="M94.9 736.7C97.6 738.0 105.3 741.5 111.2 744.4C117.1 747.3 124.1 751.0 130.5 754.0C136.9 757.0 143.9 759.8 149.7 762.7C155.5 765.6 160.0 768.6 165.1 771.3C170.2 774.0 176.7 777.0 180.5 779.0C184.3 781.0 184.8 781.5 188.0 783.3C191.2 785.1 194.7 787.9 199.5 790.0C204.3 792.1 212.3 794.0 216.8 795.8C221.3 797.5 221.7 798.8 226.5 800.5C231.3 802.2 239.3 804.4 245.7 806.3C252.1 808.2 258.5 810.4 264.9 812.1C271.3 813.8 277.6 815.1 284.0 816.7C290.4 818.3 296.8 820.0 303.2 821.5C309.6 823.0 316.1 824.1 322.5 825.4C328.9 826.7 335.3 828.1 341.7 829.2C348.1 830.3 355.8 831.4 360.9 832.1C366.0 832.8 370.6 833.4 372.5 833.6"/>
<path stroke="#d81820" d="M94.9 740.5C97.6 741.5 105.3 744.4 111.2 746.3C117.1 748.2 124.1 750.2 130.5 752.1C136.9 754.0 143.3 755.7 149.7 757.8C156.1 759.9 162.5 762.4 168.9 764.6C175.3 766.8 181.6 768.6 188.0 770.8C194.4 772.9 200.8 775.3 207.2 777.5C213.6 779.7 220.1 782.1 226.5 784.2C232.9 786.3 239.3 788.1 245.7 790.0C252.1 791.9 258.5 794.1 264.9 795.8C271.3 797.5 277.6 798.7 284.0 800.4C290.4 802.1 296.8 804.4 303.2 806.2C309.6 808.0 316.9 809.8 322.5 811.0C328.1 812.2 330.6 812.1 337.0 813.5C343.4 814.9 354.4 818.0 360.9 819.6C367.4 821.2 370.5 822.1 376.0 823.2C381.5 824.4 388.5 825.8 393.8 826.5C399.1 827.2 404.2 826.7 407.7 827.2C411.2 827.7 411.5 828.6 414.6 829.5C417.7 830.4 422.0 831.5 426.2 832.3C430.4 833.0 437.7 833.7 440.0 834.0"/>
<path stroke="#4a0812" d="M94.9 735.7C97.6 736.4 105.3 738.2 111.2 739.6C117.1 741.0 124.1 742.8 130.5 744.4C136.9 746.0 143.3 747.6 149.7 749.2C156.1 750.8 162.5 752.5 168.9 754.0C175.3 755.5 181.6 756.8 188.0 758.3C194.4 759.8 200.8 761.5 207.2 763.1C213.6 764.7 220.1 766.3 226.5 767.9C232.9 769.5 239.3 771.3 245.7 772.7C252.1 774.1 259.1 775.4 264.9 776.5C270.7 777.6 274.9 778.1 280.3 779.4C285.7 780.6 292.1 782.9 297.5 784.0C302.9 785.1 308.6 785.0 312.8 786.0C317.0 787.0 317.7 788.5 322.5 789.8C327.3 791.1 335.3 792.4 341.7 793.7C348.1 795.0 354.5 796.2 360.9 797.5C367.3 798.8 373.0 799.6 380.0 801.2C387.0 802.8 395.4 805.0 403.1 806.9C410.8 808.8 418.5 811.0 426.2 812.7C433.9 814.4 441.5 815.8 449.2 817.3C456.9 818.8 466.1 820.5 472.3 821.9C478.5 823.2 481.6 824.8 486.2 825.4C490.8 826.0 497.7 825.6 500.0 825.6"/>
</g>
<rect x="95.4" y="707.3" width="404.00" height="126.90" fill="none" stroke="#111" stroke-width="1.4"/>
<path d="M110.09 834.20v-2.6M110.09 707.30v2.6M124.78 834.20v-2.6M124.78 707.30v2.6M139.47 834.20v-2.6M139.47 707.30v2.6M154.16 834.20v-2.6M154.16 707.30v2.6M168.85 834.20v-4.2M168.85 707.30v4.2M183.55 834.20v-2.6M183.55 707.30v2.6M198.24 834.20v-2.6M198.24 707.30v2.6M212.93 834.20v-2.6M212.93 707.30v2.6M227.62 834.20v-2.6M227.62 707.30v2.6M242.31 834.20v-4.2M242.31 707.30v4.2M257.00 834.20v-2.6M257.00 707.30v2.6M271.69 834.20v-2.6M271.69 707.30v2.6M286.38 834.20v-2.6M286.38 707.30v2.6M301.07 834.20v-2.6M301.07 707.30v2.6M315.76 834.20v-4.2M315.76 707.30v4.2M330.45 834.20v-2.6M330.45 707.30v2.6M345.15 834.20v-2.6M345.15 707.30v2.6M359.84 834.20v-2.6M359.84 707.30v2.6M374.53 834.20v-2.6M374.53 707.30v2.6M389.22 834.20v-4.2M389.22 707.30v4.2M403.91 834.20v-2.6M403.91 707.30v2.6M418.60 834.20v-2.6M418.60 707.30v2.6M433.29 834.20v-2.6M433.29 707.30v2.6M447.98 834.20v-2.6M447.98 707.30v2.6M462.67 834.20v-4.2M462.67 707.30v4.2M477.36 834.20v-2.6M477.36 707.30v2.6M492.05 834.20v-2.6M492.05 707.30v2.6M95.40 712.94h2.6M499.40 712.94h-2.6M95.40 718.58h2.6M499.40 718.58h-2.6M95.40 724.22h2.6M499.40 724.22h-2.6M95.40 729.86h2.6M499.40 729.86h-2.6M95.40 735.50h4.2M499.40 735.50h-4.2M95.40 741.14h2.6M499.40 741.14h-2.6M95.40 746.78h2.6M499.40 746.78h-2.6M95.40 752.42h2.6M499.40 752.42h-2.6M95.40 758.06h2.6M499.40 758.06h-2.6M95.40 763.70h4.2M499.40 763.70h-4.2M95.40 769.34h2.6M499.40 769.34h-2.6M95.40 774.98h2.6M499.40 774.98h-2.6M95.40 780.62h2.6M499.40 780.62h-2.6M95.40 786.26h2.6M499.40 786.26h-2.6M95.40 791.90h4.2M499.40 791.90h-4.2M95.40 797.54h2.6M499.40 797.54h-2.6M95.40 803.18h2.6M499.40 803.18h-2.6M95.40 808.82h2.6M499.40 808.82h-2.6M95.40 814.46h2.6M499.40 814.46h-2.6M95.40 820.10h4.2M499.40 820.10h-4.2M95.40 825.74h2.6M499.40 825.74h-2.6M95.40 831.38h2.6M499.40 831.38h-2.6" stroke="#111" stroke-width="1.1" fill="none"/>
<g clip-path="url(#cH3)" fill="none" stroke-width="2.4" stroke-linejoin="round" stroke-linecap="round">
<path stroke="#000000" d="M98.7 837.5C100.8 838.5 107.7 841.8 111.2 843.6C114.8 845.4 116.0 845.5 120.0 848.5C124.0 851.5 131.3 857.0 135.4 861.5C139.5 866.0 141.5 870.8 144.6 875.4C147.7 880.0 150.7 884.6 153.8 889.2C156.9 893.8 160.0 899.0 163.1 903.1C166.2 907.2 169.2 910.3 172.3 913.8C175.4 917.2 177.0 920.8 181.5 923.8C186.0 926.8 193.6 929.6 199.5 931.5C205.4 933.4 212.3 933.9 216.8 935.4C221.3 936.9 221.7 938.6 226.5 940.2C231.3 941.8 239.3 943.4 245.7 945.0C252.1 946.6 259.1 948.7 264.9 949.8C270.7 950.9 276.4 950.9 280.3 951.7C284.2 952.5 285.5 953.7 288.0 954.6C290.5 955.5 293.0 956.7 295.5 956.9C298.0 957.1 300.3 955.7 303.2 956.0C306.1 956.3 308.9 957.7 312.8 958.8C316.7 959.9 323.4 961.9 326.3 962.7C329.2 963.5 329.4 963.4 330.0 963.5"/>
<path stroke="#2433e6" d="M94.9 854.2C97.6 855.9 107.0 861.6 111.2 864.5C115.4 867.4 116.0 868.2 120.0 871.8C124.0 875.4 130.3 881.8 135.4 886.2C140.5 890.7 145.7 894.9 150.8 898.5C155.9 902.1 161.1 904.8 166.2 907.7C171.3 910.7 175.9 913.3 181.5 916.2C187.1 919.1 193.6 922.5 199.5 925.0C205.4 927.5 212.3 929.5 216.8 931.5C221.3 933.5 221.7 935.7 226.5 937.3C231.3 938.9 240.9 940.2 245.7 941.2C250.5 942.2 251.5 942.0 255.3 943.1C259.2 944.2 264.0 946.9 268.8 947.9C273.6 948.9 278.3 948.2 284.0 949.2C289.7 950.2 296.8 952.5 303.2 954.0C309.6 955.5 316.7 956.6 322.5 957.9C328.3 959.2 334.3 960.8 337.8 961.7C341.3 962.6 342.6 963.0 343.6 963.3M352.5 963.6C355.3 963.6 366.7 963.6 369.5 963.6"/>
<path stroke="#139065" d="M94.9 863.8C97.6 864.6 107.0 867.1 111.2 868.6C115.4 870.1 116.0 870.8 120.0 872.8C124.0 874.8 130.3 878.3 135.4 880.8C140.5 883.3 145.7 885.4 150.8 887.7C155.9 890.0 161.1 892.4 166.2 894.6C171.3 896.8 175.9 898.9 181.5 900.8C187.1 902.7 195.7 904.9 200.0 906.2C204.3 907.5 202.8 907.3 207.2 908.5C211.6 909.7 220.1 911.5 226.5 913.3C232.9 915.0 239.3 916.9 245.7 919.0C252.1 921.1 258.5 923.7 264.9 925.8C271.3 927.9 277.6 929.7 284.0 931.5C290.4 933.3 296.8 935.0 303.2 936.7C309.6 938.4 316.1 939.9 322.5 941.5C328.9 943.1 335.3 944.8 341.7 946.3C348.1 947.8 354.5 949.0 360.9 950.2C367.3 951.4 375.3 952.3 380.0 953.5C384.7 954.7 386.5 956.7 389.2 957.2C391.9 957.7 392.0 956.0 396.2 956.5C400.4 957.0 408.5 959.0 414.6 960.0C420.8 961.0 429.4 961.7 433.1 962.3C436.8 962.9 436.4 963.5 437.0 963.7"/>
<path stroke="#d81820" d="M94.9 862.8C97.6 863.4 107.0 865.6 111.2 866.7C115.4 867.8 116.0 868.4 120.0 869.5C124.0 870.6 130.3 871.9 135.4 873.1C140.5 874.3 145.7 875.6 150.8 876.9C155.9 878.2 161.1 879.5 166.2 880.8C171.3 882.1 175.9 883.1 181.5 884.6C187.1 886.1 195.7 888.9 200.0 890.0C204.3 891.1 202.8 890.2 207.2 891.2C211.6 892.2 220.1 894.4 226.5 896.0C232.9 897.6 239.3 899.2 245.7 900.8C252.1 902.4 258.5 904.1 264.9 905.6C271.3 907.1 277.6 908.4 284.0 909.8C290.4 911.1 296.8 912.2 303.2 913.7C309.6 915.2 316.1 917.2 322.5 918.5C328.9 919.8 335.3 920.0 341.7 921.3C348.1 922.6 354.5 924.6 360.9 926.2C367.3 927.9 374.5 930.0 380.0 931.2C385.5 932.4 389.2 932.7 393.8 933.5C398.4 934.3 402.3 934.6 407.7 935.8C413.1 936.9 421.2 939.1 426.2 940.4C431.2 941.7 433.9 942.6 437.7 943.4C441.5 944.2 445.3 944.1 449.2 945.0C453.1 945.9 456.2 947.1 460.8 948.5C465.4 949.9 471.9 952.3 476.9 953.1C481.9 953.9 487.0 952.9 490.8 953.5C494.6 954.1 498.1 956.4 499.5 957.0"/>
</g>
<rect x="94.8" y="837.1" width="403.70" height="126.90" fill="none" stroke="#111" stroke-width="1.4"/>
<path d="M109.48 964.00v-2.6M109.48 837.10v2.6M124.16 964.00v-2.6M124.16 837.10v2.6M138.84 964.00v-2.6M138.84 837.10v2.6M153.52 964.00v-2.6M153.52 837.10v2.6M168.20 964.00v-4.2M168.20 837.10v4.2M182.88 964.00v-2.6M182.88 837.10v2.6M197.56 964.00v-2.6M197.56 837.10v2.6M212.24 964.00v-2.6M212.24 837.10v2.6M226.92 964.00v-2.6M226.92 837.10v2.6M241.60 964.00v-4.2M241.60 837.10v4.2M256.28 964.00v-2.6M256.28 837.10v2.6M270.96 964.00v-2.6M270.96 837.10v2.6M285.64 964.00v-2.6M285.64 837.10v2.6M300.32 964.00v-2.6M300.32 837.10v2.6M315.00 964.00v-4.2M315.00 837.10v4.2M329.68 964.00v-2.6M329.68 837.10v2.6M344.36 964.00v-2.6M344.36 837.10v2.6M359.04 964.00v-2.6M359.04 837.10v2.6M373.72 964.00v-2.6M373.72 837.10v2.6M388.40 964.00v-4.2M388.40 837.10v4.2M403.08 964.00v-2.6M403.08 837.10v2.6M417.76 964.00v-2.6M417.76 837.10v2.6M432.44 964.00v-2.6M432.44 837.10v2.6M447.12 964.00v-2.6M447.12 837.10v2.6M461.80 964.00v-4.2M461.80 837.10v4.2M476.48 964.00v-2.6M476.48 837.10v2.6M491.16 964.00v-2.6M491.16 837.10v2.6M94.80 842.74h2.6M498.50 842.74h-2.6M94.80 848.38h2.6M498.50 848.38h-2.6M94.80 854.02h2.6M498.50 854.02h-2.6M94.80 859.66h2.6M498.50 859.66h-2.6M94.80 865.30h4.2M498.50 865.30h-4.2M94.80 870.94h2.6M498.50 870.94h-2.6M94.80 876.58h2.6M498.50 876.58h-2.6M94.80 882.22h2.6M498.50 882.22h-2.6M94.80 887.86h2.6M498.50 887.86h-2.6M94.80 893.50h4.2M498.50 893.50h-4.2M94.80 899.14h2.6M498.50 899.14h-2.6M94.80 904.78h2.6M498.50 904.78h-2.6M94.80 910.42h2.6M498.50 910.42h-2.6M94.80 916.06h2.6M498.50 916.06h-2.6M94.80 921.70h4.2M498.50 921.70h-4.2M94.80 927.34h2.6M498.50 927.34h-2.6M94.80 932.98h2.6M498.50 932.98h-2.6M94.80 938.62h2.6M498.50 938.62h-2.6M94.80 944.26h2.6M498.50 944.26h-2.6M94.80 949.90h4.2M498.50 949.90h-4.2M94.80 955.54h2.6M498.50 955.54h-2.6M94.80 961.18h2.6M498.50 961.18h-2.6" stroke="#111" stroke-width="1.1" fill="none"/>
<line x1="397.4" y1="53.8" x2="435.8" y2="53.8" stroke="#000000" stroke-width="2.5"/>
<line x1="397.4" y1="74.0" x2="435.8" y2="74.0" stroke="#2433e6" stroke-width="2.5"/>
<line x1="397.4" y1="95.2" x2="435.8" y2="95.2" stroke="#139065" stroke-width="2.5"/>
<line x1="397.4" y1="115.8" x2="435.8" y2="115.8" stroke="#d81820" stroke-width="2.5"/>
<line x1="397.4" y1="136.2" x2="435.8" y2="136.2" stroke="#4a0812" stroke-width="2.5"/>
<g font-family="'Liberation Sans', Arial, sans-serif">
<text x="213.18" y="17.00" font-size="21.5" font-weight="bold" fill="#000" textLength="150.27" lengthAdjust="spacingAndGlyphs">1 mTorr Argon</text>
<text x="241.16" y="555.10" font-size="21.5" font-weight="bold" fill="#000" textLength="174.25" lengthAdjust="spacingAndGlyphs">20 mTorr Helium</text>
<text x="444.10" y="59.50" font-size="16.3" font-weight="bold" fill="#000" textLength="43.25" lengthAdjust="spacingAndGlyphs">-2.5 V</text>
<text x="444.07" y="79.70" font-size="16.3" font-weight="bold" fill="#000" textLength="25.09" lengthAdjust="spacingAndGlyphs">0 V</text>
<text x="444.10" y="99.90" font-size="16.3" font-weight="bold" fill="#000" textLength="38.03" lengthAdjust="spacingAndGlyphs">2.5 V</text>
<text x="444.07" y="121.30" font-size="16.3" font-weight="bold" fill="#000" textLength="25.09" lengthAdjust="spacingAndGlyphs">5 V</text>
<text x="444.09" y="141.00" font-size="16.3" font-weight="bold" fill="#000" textLength="33.92" lengthAdjust="spacingAndGlyphs">10 V</text>
<text x="255.70" y="92.30" font-size="20.3" font-weight="bold" fill="#000" textLength="13.32" lengthAdjust="spacingAndGlyphs">V</text>
<text x="268.50" y="97.60" font-size="12.6" font-weight="bold" fill="#000" textLength="43.31" lengthAdjust="spacingAndGlyphs">Anode</text>
<text x="313.63" y="92.30" font-size="20.3" font-weight="bold" fill="#000" textLength="19.75" lengthAdjust="spacingAndGlyphs">-V</text>
<text x="335.19" y="97.30" font-size="12.6" font-weight="bold" fill="#000" textLength="49.03" lengthAdjust="spacingAndGlyphs">Plasma</text>
<text x="386.33" y="92.30" font-size="20.3" font-weight="bold" fill="#000" textLength="6.31" lengthAdjust="spacingAndGlyphs">:</text>
<text x="106.43" y="152.70" font-size="21.2" font-weight="bold" fill="#3ee03a" textLength="96.99" lengthAdjust="spacingAndGlyphs">1550 mm</text>
<text x="204.70" y="144.90" font-size="12.8" font-weight="bold" fill="#3ee03a" textLength="6.11" lengthAdjust="spacingAndGlyphs">2</text>
<text x="111.43" y="282.30" font-size="21.2" font-weight="bold" fill="#15156b" textLength="96.99" lengthAdjust="spacingAndGlyphs">2570 mm</text>
<text x="209.05" y="274.90" font-size="12.8" font-weight="bold" fill="#15156b" textLength="6.36" lengthAdjust="spacingAndGlyphs">2</text>
<text x="103.92" y="413.20" font-size="21.2" font-weight="bold" fill="#bd0f2c" textLength="97.61" lengthAdjust="spacingAndGlyphs">3830 mm</text>
<text x="201.55" y="406.00" font-size="12.8" font-weight="bold" fill="#bd0f2c" textLength="6.36" lengthAdjust="spacingAndGlyphs">2</text>
<text x="377.50" y="607.60" font-size="21.2" font-weight="bold" fill="#3ee03a" textLength="96.51" lengthAdjust="spacingAndGlyphs">4560 mm</text>
<text x="475.05" y="600.60" font-size="12.8" font-weight="bold" fill="#3ee03a" textLength="6.01" lengthAdjust="spacingAndGlyphs">2</text>
<text x="376.73" y="740.00" font-size="21.2" font-weight="bold" fill="#15156b" textLength="97.30" lengthAdjust="spacingAndGlyphs">5360 mm</text>
<text x="475.05" y="732.50" font-size="12.8" font-weight="bold" fill="#15156b" textLength="6.01" lengthAdjust="spacingAndGlyphs">2</text>
<text x="376.71" y="872.60" font-size="21.2" font-weight="bold" fill="#bd0f2c" textLength="97.15" lengthAdjust="spacingAndGlyphs">7110 mm</text>
<text x="475.30" y="865.00" font-size="12.8" font-weight="bold" fill="#bd0f2c" textLength="5.75" lengthAdjust="spacingAndGlyphs">2</text>
<text x="73.48" y="499.50" font-size="23.4" stroke="#000" stroke-width="0.3" fill="#000" textLength="443.31" lengthAdjust="spacingAndGlyphs">Probe potential below plasma potential (V)</text>
<text x="74.29" y="1034.40" font-size="23.4" stroke="#000" stroke-width="0.3" fill="#000" textLength="442.51" lengthAdjust="spacingAndGlyphs">Probe potential below plasma potential (V)</text>
<text x="49.28" y="311.00" font-size="23.2" stroke="#000" stroke-width="0.3" fill="#000" textLength="32.88" lengthAdjust="spacingAndGlyphs">0.0</text>
<text x="41.12" y="339.13" font-size="23.2" stroke="#000" stroke-width="0.3" fill="#000" textLength="40.77" lengthAdjust="spacingAndGlyphs">-0.5</text>
<text x="41.12" y="367.27" font-size="23.2" stroke="#000" stroke-width="0.3" fill="#000" textLength="40.77" lengthAdjust="spacingAndGlyphs">-1.0</text>
<text x="41.12" y="395.40" font-size="23.2" stroke="#000" stroke-width="0.3" fill="#000" textLength="40.77" lengthAdjust="spacingAndGlyphs">-1.5</text>
<text x="41.12" y="423.53" font-size="23.2" stroke="#000" stroke-width="0.3" fill="#000" textLength="40.77" lengthAdjust="spacingAndGlyphs">-2.0</text>
<text x="87.24" y="463.10" font-size="23.4" stroke="#000" stroke-width="0.3" fill="#000" textLength="13.54" lengthAdjust="spacingAndGlyphs">0</text>
<text x="160.46" y="463.10" font-size="23.4" stroke="#000" stroke-width="0.3" fill="#000" textLength="13.54" lengthAdjust="spacingAndGlyphs">2</text>
<text x="233.68" y="463.10" font-size="23.4" stroke="#000" stroke-width="0.3" fill="#000" textLength="13.54" lengthAdjust="spacingAndGlyphs">4</text>
<text x="306.89" y="463.10" font-size="23.4" stroke="#000" stroke-width="0.3" fill="#000" textLength="13.54" lengthAdjust="spacingAndGlyphs">6</text>
<text x="380.11" y="463.10" font-size="23.4" stroke="#000" stroke-width="0.3" fill="#000" textLength="13.54" lengthAdjust="spacingAndGlyphs">8</text>
<text x="446.05" y="463.10" font-size="23.4" stroke="#000" stroke-width="0.3" fill="#000" textLength="27.07" lengthAdjust="spacingAndGlyphs">10</text>
<text x="49.28" y="845.10" font-size="23.2" stroke="#000" stroke-width="0.3" fill="#000" textLength="32.88" lengthAdjust="spacingAndGlyphs">0.0</text>
<text x="41.12" y="873.30" font-size="23.2" stroke="#000" stroke-width="0.3" fill="#000" textLength="40.77" lengthAdjust="spacingAndGlyphs">-0.5</text>
<text x="41.12" y="901.50" font-size="23.2" stroke="#000" stroke-width="0.3" fill="#000" textLength="40.77" lengthAdjust="spacingAndGlyphs">-1.0</text>
<text x="41.12" y="929.70" font-size="23.2" stroke="#000" stroke-width="0.3" fill="#000" textLength="40.77" lengthAdjust="spacingAndGlyphs">-1.5</text>
<text x="41.12" y="957.90" font-size="23.2" stroke="#000" stroke-width="0.3" fill="#000" textLength="40.77" lengthAdjust="spacingAndGlyphs">-2.0</text>
<text x="88.04" y="997.60" font-size="23.4" stroke="#000" stroke-width="0.3" fill="#000" textLength="13.54" lengthAdjust="spacingAndGlyphs">0</text>
<text x="161.44" y="997.60" font-size="23.4" stroke="#000" stroke-width="0.3" fill="#000" textLength="13.54" lengthAdjust="spacingAndGlyphs">2</text>
<text x="234.84" y="997.60" font-size="23.4" stroke="#000" stroke-width="0.3" fill="#000" textLength="13.54" lengthAdjust="spacingAndGlyphs">4</text>
<text x="308.24" y="997.60" font-size="23.4" stroke="#000" stroke-width="0.3" fill="#000" textLength="13.54" lengthAdjust="spacingAndGlyphs">6</text>
<text x="381.64" y="997.60" font-size="23.4" stroke="#000" stroke-width="0.3" fill="#000" textLength="13.54" lengthAdjust="spacingAndGlyphs">8</text>
<text x="447.76" y="997.60" font-size="23.4" stroke="#000" stroke-width="0.3" fill="#000" textLength="27.07" lengthAdjust="spacingAndGlyphs">10</text>
<text transform="translate(17.60,430.07) rotate(-90)" font-size="21.5" fill="#000" stroke="#000" stroke-width="0.3" textLength="54.83" lengthAdjust="spacingAndGlyphs">ln(J/J</text>
<text transform="translate(25.40,374.36) rotate(-90)" font-size="14.5" fill="#000" stroke="#000" stroke-width="0.3" textLength="63.73" lengthAdjust="spacingAndGlyphs">0|Ground</text>
<text transform="translate(17.60,309.50) rotate(-90)" font-size="21.5" fill="#000" stroke="#000" stroke-width="0.3" textLength="6.22" lengthAdjust="spacingAndGlyphs">)</text>
<text transform="translate(18.00,964.57) rotate(-90)" font-size="21.5" fill="#000" stroke="#000" stroke-width="0.3" textLength="54.83" lengthAdjust="spacingAndGlyphs">ln(J/J</text>
<text transform="translate(25.80,908.86) rotate(-90)" font-size="14.5" fill="#000" stroke="#000" stroke-width="0.3" textLength="63.73" lengthAdjust="spacingAndGlyphs">0|Ground</text>
<text transform="translate(18.00,844.00) rotate(-90)" font-size="21.5" fill="#000" stroke="#000" stroke-width="0.3" textLength="6.22" lengthAdjust="spacingAndGlyphs">)</text>
</g>
</svg>
</body></html>
